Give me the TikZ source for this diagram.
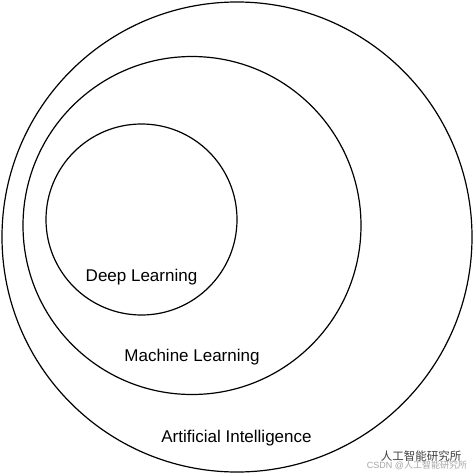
\documentclass[tikz,border=0pt]{standalone}
\usepackage{fontspec}
\setmainfont{Liberation Sans}
\newfontfamily\cjk{Noto Sans CJK SC}
\begin{document}
\begin{tikzpicture}[x=1pt,y=-1pt]
\useasboundingbox[fill=white] (0,0) rectangle (474,474);

\draw[line width=1.2pt] (237,237) circle (235);
\draw[line width=1.2pt] (192,225.5) circle (169);
\draw[line width=1.2pt] (141.5,219.5) circle (95.5);

\node[font=\fontsize{17}{20}\selectfont] (dl) at (141.5,277) {Deep Learning};
\node[font=\fontsize{17}{20}\selectfont] (ml) at (192,357) {Machine Learning};
\node[font=\fontsize{17}{20}\selectfont] (ai) at (236.5,438) {Artificial Intelligence};

\node[font=\cjk\fontsize{11.5}{13}\selectfont, text=black!75] (wm) at (421,456) {人工智能研究所};
\node[font=\fontsize{9}{10}\selectfont, text=black!35] (csdn) at (417,465) {CSDN @{\cjk 人工智能研究所}};
\end{tikzpicture}
\end{document}
